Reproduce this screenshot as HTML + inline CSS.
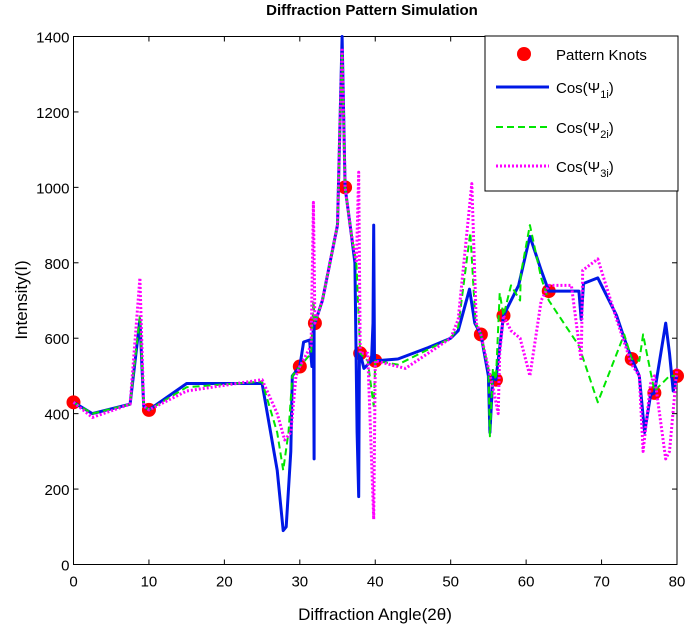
<!DOCTYPE html>
<html><head><meta charset="utf-8"><style>
body{margin:0;background:#fff;}
svg{display:block;font-family:"Liberation Sans",sans-serif;}
</style></head><body>
<svg id="chart" width="685" height="631">
<text x="372" y="15" text-anchor="middle" font-size="15" font-weight="bold">Diffraction Pattern Simulation</text>
<g id="plot"></g>
<text x="375" y="620" text-anchor="middle" font-size="17">Diffraction Angle(2θ)</text>
<text transform="translate(27,300) rotate(-90)" text-anchor="middle" font-size="17">Intensity(I)</text>
<g>
<rect x="485" y="36" width="193" height="155" fill="#fff" stroke="#000" stroke-width="1"/>
<circle cx="524" cy="54" r="7" fill="#f00"/>
<text x="556" y="60" font-size="15">Pattern Knots</text>
<line x1="496" y1="87" x2="549" y2="87" stroke="#0018e6" stroke-width="3"/>
<text x="556" y="93" font-size="15">Cos(Ψ<tspan font-size="11" dy="5">1i</tspan><tspan dy="-5">)</tspan></text>
<line x1="496" y1="127" x2="549" y2="127" stroke="#00e600" stroke-width="2" stroke-dasharray="7,4"/>
<text x="556" y="133" font-size="15">Cos(Ψ<tspan font-size="11" dy="5">2i</tspan><tspan dy="-5">)</tspan></text>
<line x1="496" y1="166" x2="549" y2="166" stroke="#f0f" stroke-width="3" stroke-dasharray="2,2"/>
<text x="556" y="172" font-size="15">Cos(Ψ<tspan font-size="11" dy="5">3i</tspan><tspan dy="-5">)</tspan></text>
</g>
</svg>
<script>
const xTicks=[0,10,20,30,40,50,60,70,80];
const yTicks=[0,200,400,600,800,1000,1200,1400];
const knotX=[0,10,30,32,36,38,40,54,56,57,63,74,77,80];
const knotY=[430,410,525,640,1000,560,540,610,490,660,725,545,455,500];
const s1X=[0,2.5,7.5,8.8,9.3,10,15,25,27,27.8,28.2,28.8,29,30,30.5,31.3,31.6,31.8,31.9,31.9,32,33,35,35.3,35.6,36,36.8,37.3,37.6,37.8,37.9,38,38.5,39.5,39.7,39.8,39.9,40,43,47,50,51,52.5,53.2,54,55,55.2,55.6,56,57,59,60.5,62,63,67,67.3,67.6,69.5,72,73,74,75,75.7,76.5,77,78.5,79,79.5,80];
const s1Y=[430,400,425,650,420,410,480,480,250,90,100,300,500,525,590,595,525,640,280,640,640,700,900,1150,1400,1000,880,800,350,180,560,560,520,540,640,900,540,540,545,575,600,620,730,640,610,500,350,500,490,660,740,870,780,725,725,650,745,760,660,600,545,500,350,450,455,640,560,460,500];
const s2X=[0,2.5,7.5,8.8,9.3,10,15,25,27,27.8,28.5,29,30,31.5,31.8,32,33,35,35.3,35.6,36,36.8,37.5,38,39,39.8,40,43,47,50,51,52.6,53.3,54,55,55.2,55.6,56,56.5,57,58,59.2,59.3,60.5,62,63,67,69.5,73,74,75,75.5,76,77,79,80];
const s2Y=[430,400,425,660,420,410,470,485,350,250,350,500,525,560,700,640,700,900,1150,1360,1000,880,800,560,540,420,540,530,570,600,630,880,640,610,520,340,520,490,720,660,740,700,770,900,760,700,580,430,610,545,540,610,560,460,500,500];
const s3X=[0,2.5,7.5,8.8,9.3,10,15,25,27,28,28.8,29.5,30,31.5,31.8,32,33,35,35.3,35.6,36,36.8,37.5,37.8,38,39,39.8,40,42,44,47,50,51,52.8,53.4,54,55,55.6,56.3,56.5,57,58,59.2,60.5,62,63,66,67.3,67.5,69.5,72,74,75,75.5,76.5,77,78.5,79,80];
const s3Y=[430,390,425,760,420,410,460,490,400,330,350,500,525,580,960,640,700,900,1150,1370,1000,880,800,1040,560,560,120,540,530,520,560,600,650,1010,640,610,520,470,400,560,660,620,600,500,700,740,740,540,780,810,650,530,500,300,480,500,280,300,520];
const X0=73.5,X1=677,Y0=564.5,Y1=36.5;
function sx(v){return X0+(v-0)/(80-0)*(X1-X0);}
function sy(v){return Y0-(v-0)/(1400-0)*(Y0-Y1);}
const NS='http://www.w3.org/2000/svg';
const g=document.getElementById('plot');
function mk(tag,attrs){const e=document.createElementNS(NS,tag);for(const k in attrs)e.setAttribute(k,attrs[k]);g.appendChild(e);return e;}
const frame=mk('rect',{x:X0,y:Y1,width:X1-X0,height:Y0-Y1,fill:'none',stroke:'#000','stroke-width':1});


xTicks.forEach(t=>{
 mk('line',{x1:sx(t),x2:sx(t),y1:Y0,y2:Y0-5,stroke:'#000'});
 mk('line',{x1:sx(t),x2:sx(t),y1:Y1,y2:Y1+5,stroke:'#000'});
 const tx=mk('text',{x:sx(t),y:Y0+22,'text-anchor':'middle','font-size':15});tx.textContent=t;
 
 
});
yTicks.forEach(t=>{
 mk('line',{x1:X0,x2:X0+5,y1:sy(t),y2:sy(t),stroke:'#000'});
 mk('line',{x1:X1,x2:X1-5,y1:sy(t),y2:sy(t),stroke:'#000'});
 const tx=mk('text',{x:X0-4,y:sy(t)+6,'text-anchor':'end','font-size':15});tx.textContent=t;
 
 
});
function line(xs,ys,st,name){
 const d=xs.map((x,i)=>(i?'L':'M')+sx(x).toFixed(1)+','+sy(ys[i]).toFixed(1)).join('');
 const p=mk('path',Object.assign({d:d,fill:'none','stroke-linejoin':'round'},st));
 
 
}
knotX.forEach((x,i)=>{
 const c=mk('circle',{cx:sx(x),cy:sy(knotY[i]),r:7,fill:'#f00'});
 
 
});
line(s1X,s1Y,{stroke:'#0018e6','stroke-width':3},'series-cos-psi1');
line(s2X,s2Y,{stroke:'#00e600','stroke-width':2,'stroke-dasharray':'7,4'},'series-cos-psi2');
line(s3X,s3Y,{stroke:'#f0f','stroke-width':3,'stroke-dasharray':'2,2'},'series-cos-psi3');
</script>
</body></html>
